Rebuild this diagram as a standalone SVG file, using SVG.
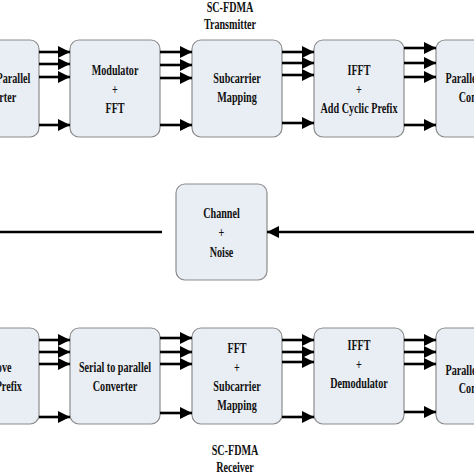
<svg xmlns="http://www.w3.org/2000/svg" width="474" height="474" viewBox="0 0 474 474">
<defs>
<style>
.box{fill:#e9edf4;stroke:#8c8c8c;stroke-width:1.2}
.t{font-family:"Liberation Serif","Times New Roman",serif;font-weight:bold;font-size:14.5px;fill:#111;text-anchor:middle}
.ln{stroke:#000;stroke-width:2.6;fill:none}
.ar{marker-end:url(#ah)}
</style>
<marker id="ah" markerUnits="userSpaceOnUse" viewBox="0 0 12 12" markerWidth="12" markerHeight="12" refX="12" refY="6" orient="auto">
<path d="M0,0 L12,6 L0,12 z" fill="#000"/>
</marker>
</defs>
<rect width="474" height="474" fill="#fff"/>

<g id="title-tx">
<text class="t" transform="translate(230,12) scale(0.7,1)">SC-FDMA</text>
<text class="t" transform="translate(230,29) scale(0.7,1)">Transmitter</text>
</g>
<g id="title-rx">
<text class="t" transform="translate(235,455) scale(0.7,1)">SC-FDMA</text>
<text class="t" transform="translate(235,472) scale(0.7,1)">Receiver</text>
</g>

<g id="tx1">
<rect class="box" x="-52" y="40" width="91" height="97" rx="9"/>
<text class="t" transform="translate(-6,83) scale(0.7,1)">Serial to Parallel</text>
<text class="t" transform="translate(-6,102) scale(0.7,1)">Converter</text>
</g>
<g id="tx2">
<rect class="box" x="70" y="40" width="90" height="97" rx="9"/>
<text class="t" transform="translate(115,75) scale(0.7,1)">Modulator</text>
<text class="t" transform="translate(115,94) scale(0.7,1)">+</text>
<text class="t" transform="translate(115,113) scale(0.7,1)">FFT</text>
</g>
<g id="tx3">
<rect class="box" x="192" y="40" width="90" height="97" rx="9"/>
<text class="t" transform="translate(237,83) scale(0.7,1)">Subcarrier</text>
<text class="t" transform="translate(237,102) scale(0.7,1)">Mapping</text>
</g>
<g id="tx4">
<rect class="box" x="314" y="40" width="90" height="97" rx="9"/>
<text class="t" transform="translate(359,75) scale(0.7,1)">IFFT</text>
<text class="t" transform="translate(359,94) scale(0.7,1)">+</text>
<text class="t" transform="translate(359,113) scale(0.7,1)">Add Cyclic Prefix</text>
</g>
<g id="tx5">
<rect class="box" x="436" y="40" width="91" height="97" rx="9"/>
<text class="t" transform="translate(481,83) scale(0.7,1)">Parallel to serial</text>
<text class="t" transform="translate(481,102) scale(0.7,1)">Converter</text>
</g>

<g id="channel">
<rect class="box" x="176" y="184" width="91" height="96" rx="9"/>
<text class="t" transform="translate(221.5,218) scale(0.7,1)">Channel</text>
<text class="t" transform="translate(221.5,237) scale(0.7,1)">+</text>
<text class="t" transform="translate(221.5,257) scale(0.7,1)">Noise</text>
</g>

<g id="rx1">
<rect class="box" x="-52" y="328" width="91" height="96" rx="9"/>
<text class="t" transform="translate(-6,372) scale(0.7,1)">Remove</text>
<text class="t" transform="translate(-6,391) scale(0.7,1)">Cyclic Prefix</text>
</g>
<g id="rx2">
<rect class="box" x="70" y="328" width="90" height="96" rx="9"/>
<text class="t" transform="translate(115,372) scale(0.7,1)">Serial to parallel</text>
<text class="t" transform="translate(115,391) scale(0.7,1)">Converter</text>
</g>
<g id="rx3">
<rect class="box" x="192" y="328" width="90" height="96" rx="9"/>
<text class="t" transform="translate(237,353) scale(0.7,1)">FFT</text>
<text class="t" transform="translate(237,372) scale(0.7,1)">+</text>
<text class="t" transform="translate(237,391) scale(0.7,1)">Subcarrier</text>
<text class="t" transform="translate(237,410) scale(0.7,1)">Mapping</text>
</g>
<g id="rx4">
<rect class="box" x="314" y="328" width="90" height="96" rx="9"/>
<text class="t" transform="translate(359,350) scale(0.7,1)">IFFT</text>
<text class="t" transform="translate(359,369) scale(0.7,1)">+</text>
<text class="t" transform="translate(359,388) scale(0.7,1)">Demodulator</text>
</g>
<g id="rx5">
<rect class="box" x="436" y="328" width="91" height="96" rx="9"/>
<text class="t" transform="translate(481,375) scale(0.7,1)">Parallel to serial</text>
<text class="t" transform="translate(481,393) scale(0.7,1)">Converter</text>
</g>

<g id="connectors">
<path class="ln ar" d="M39,52 H70"/>
<path class="ln ar" d="M39,64 H70"/>
<path class="ln ar" d="M39,77 H70"/>
<path class="ln ar" d="M39,125 H70"/>
<path class="ln ar" d="M160,52 H192"/>
<path class="ln ar" d="M160,65 H192"/>
<path class="ln ar" d="M160,78 H192"/>
<path class="ln ar" d="M160,125 H192"/>
<path class="ln ar" d="M282,52 H314"/>
<path class="ln ar" d="M282,63 H314"/>
<path class="ln ar" d="M282,75 H314"/>
<path class="ln ar" d="M282,123 H314"/>
<path class="ln ar" d="M404,48 H436"/>
<path class="ln ar" d="M404,63 H436"/>
<path class="ln ar" d="M404,77 H436"/>
<path class="ln ar" d="M404,125 H436"/>

<path class="ln" d="M0,232 H162"/>
<path class="ln ar" d="M474,232 H267"/>

<path class="ln ar" d="M39,340 H70"/>
<path class="ln ar" d="M39,352 H70"/>
<path class="ln ar" d="M39,364 H70"/>
<path class="ln ar" d="M39,417 H70"/>
<path class="ln ar" d="M160,338 H192"/>
<path class="ln ar" d="M160,352 H192"/>
<path class="ln ar" d="M160,364 H192"/>
<path class="ln ar" d="M160,413 H192"/>
<path class="ln ar" d="M282,340 H314"/>
<path class="ln ar" d="M282,352 H314"/>
<path class="ln ar" d="M282,362 H314"/>
<path class="ln ar" d="M282,417 H314"/>
<path class="ln ar" d="M404,340 H436"/>
<path class="ln ar" d="M404,352 H436"/>
<path class="ln ar" d="M404,364 H436"/>
<path class="ln ar" d="M404,412 H436"/>
</g>
</svg>
